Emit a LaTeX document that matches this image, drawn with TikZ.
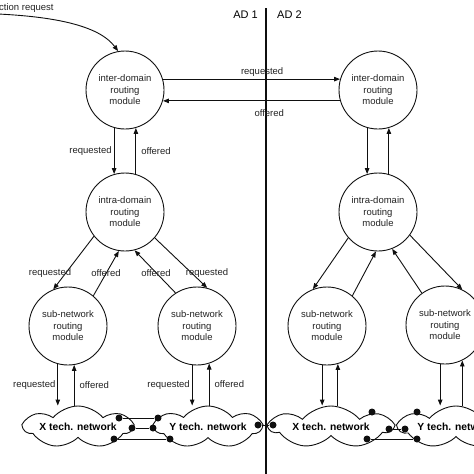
\documentclass[tikz,border=0pt]{standalone}
\usepackage{fontspec}
\setmainfont{Liberation Sans}
\definecolor{LineColor}{RGB}{15,15,15}
\definecolor{TextColor}{RGB}{35,35,35}
\usetikzlibrary{positioning, arrows.meta, shapes.symbols}
\tikzstyle{arrow} = [line width=0.9pt, LineColor, ->, >={Triangle[length=6pt, width=4.5pt]}]
\tikzstyle{link} = [line width=0.9pt, LineColor]
\tikzset{
  module/.style={circle, draw=LineColor, line width=0.9pt, minimum size=78pt, inner sep=0pt, align=center, text=TextColor, font=\fontsize{9.5}{11.5}\selectfont},
  network/.style={cloud, cloud puffs=7, cloud puff arc=100, cloud ignores aspect, draw=LineColor, line width=0.9pt, inner sep=0pt, minimum height=42pt, font=\bfseries\fontsize{10.3}{12}\selectfont},
  flow/.style={text=TextColor, inner sep=2pt, font=\fontsize{9.5}{11.5}\selectfont},
  adname/.style={inner sep=0pt, font=\fontsize{11}{13}\selectfont},
  joint/.style={circle, fill=LineColor, inner sep=0pt, minimum size=7pt}
}

\begin{document}
\begin{tikzpicture}[x=1pt, y=-1pt]
\useasboundingbox (0,0) rectangle (474,474);

% Domain border
\coordinate (top) at (266,8);
\coordinate (bottom) at (266,476);
\draw[line width=2.2pt, LineColor] (top) -- (bottom);
\node[adname, anchor=east] (ad1) at (258,15) {AD 1};
\node[adname, anchor=west] (ad2) at (277,15) {AD 2};

% Modules
\node[module] (inter1) at (125,90) {inter-domain\\routing\\module};
\node[module] (inter2) at (378,90) {inter-domain\\routing\\module};
\node[module] (intra1) at (125,212) {intra-domain\\routing\\module};
\node[module] (intra2) at (378,212) {intra-domain\\routing\\module};
\node[module] (sub1a) at (68,326) {sub-network\\routing\\module};
\node[module] (sub1b) at (197,326) {sub-network\\routing\\module};
\node[module] (sub2a) at (327,326) {sub-network\\routing\\module};
\node[module] (sub2b) at (445,325) {sub-network\\routing\\module};

% Networks
\node[network, minimum width=108pt] (net1x) at (78,427) {X tech. network};
\node[network, minimum width=106pt] (net1y) at (208,427) {Y tech. network};
\node[network, minimum width=122pt] (net2x) at (331,427) {X tech. network};
\node[network, minimum width=114pt] (net2y) at (456,427) {Y tech. network};

% Connection request
\node[flow, anchor=west, inner sep=0pt] (req) at (-1,8) {ction request};
\coordinate (reqstart) at (-2,14);
\draw[arrow] (reqstart) .. controls (60,17) and (100,27) .. (inter1.100);

% Between domains
\draw[arrow] (inter1.16) -- node[flow, above, pos=0.56] (reqAD) {requested} (inter2.164);
\draw[arrow] (inter2.-164) -- node[flow, below=6pt, pos=0.4] (offAD) {offered} (inter1.-16);

% Inter -- intra
\draw[arrow] (inter1.-106) -- node[flow, left] (reqI) {requested} (intra1.106);
\draw[arrow] (intra1.74) -- node[flow, right=3pt] (offI) {offered} (inter1.-74);
\draw[arrow] (inter2.-106) -- (intra2.106);
\draw[arrow] (intra2.74) -- (inter2.-74);

% Intra -- sub-networks
\draw[arrow] (intra1.218) -- (sub1a.112);
\draw[arrow] (sub1a.50) -- (intra1.261);
\draw[arrow] (sub1b.123) -- (intra1.-76);
\draw[arrow] (intra1.-41) -- (sub1b.75);
\node[flow] (reqS1) at (50,273) {requested};
\node[flow] (offS1) at (106,273) {offered};
\node[flow] (offS2) at (156,273) {offered};
\node[flow] (reqS2) at (207,273) {requested};
\draw[arrow] (intra2.221) -- (sub2a.111);
\draw[arrow] (sub2a.50) -- (intra2.267);
\draw[arrow] (sub2b.126) -- (intra2.-69);
\draw[arrow] (intra2.-36) -- (sub2b.64);

% Sub-networks -- networks
\draw[arrow] (sub1a.-105) -- node[flow, left] (reqN1) {requested} (sub1a.-105 |- net1x.north);
\draw[arrow] (sub1a.-81 |- net1x.north) -- node[flow, right=3pt] (offN1) {offered} (sub1a.-81);
\draw[arrow] (sub1b.-97) -- node[flow, left] (reqN2) {requested} (sub1b.-97 |- net1y.north);
\draw[arrow] (sub1b.-72 |- net1y.north) -- node[flow, right=3pt] (offN2) {offered} (sub1b.-72);
\draw[arrow] (sub2a.-97) -- (sub2a.-97 |- net2x.north);
\draw[arrow] (sub2a.-74 |- net2x.north) -- (sub2a.-74);
\draw[arrow] (sub2b.-97) -- (sub2b.-97 |- net2y.north);
\draw[arrow] (sub2b.-64 |- net2y.north) -- (sub2b.-64);

% Gateways
\node[joint] (j1) at (119,418) {};
\node[joint] (j2) at (158,418) {};
\node[joint] (j3) at (132,428) {};
\node[joint] (j4) at (153,428) {};
\node[joint] (j5) at (114,439) {};
\node[joint] (j6) at (170,439) {};
\node[joint] (j7) at (258,425) {};
\node[joint] (j8) at (273,425) {};
\node[joint] (k1) at (372,412) {};
\node[joint] (k2) at (417,412) {};
\node[joint] (k3) at (389,429) {};
\node[joint] (k4) at (405,429) {};
\node[joint] (k5) at (367,439) {};
\node[joint] (k6) at (417,439) {};
\draw[link] (j1) -- (j2);
\draw[link] (j3) -- (j4);
\draw[link] (j5) -- (j6);
\draw[link] (j7) -- (j8);
\draw[link] (k3) -- (k4);
\draw[link] (k5) -- (k6);
\end{tikzpicture}
\end{document}
